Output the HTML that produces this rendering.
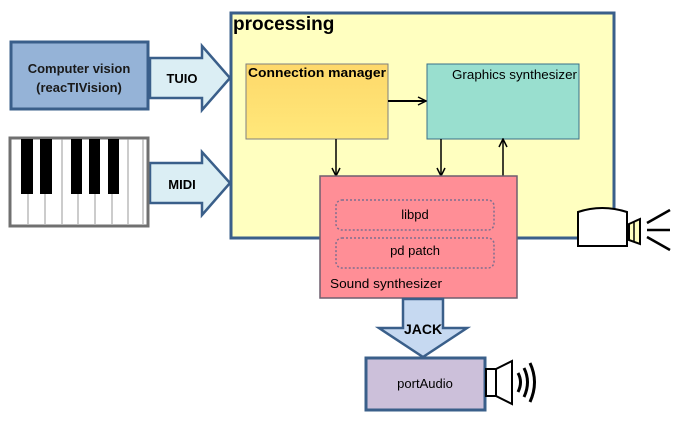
<!DOCTYPE html>
<html><head><meta charset="utf-8"><style>
body{margin:0;background:#fff}
svg text{font-family:"Liberation Sans",sans-serif}
</style></head><body>
<svg width="682" height="424" viewBox="0 0 682 424" xmlns="http://www.w3.org/2000/svg">
<defs>
<marker id="ah" markerWidth="10" markerHeight="10" refX="9" refY="5" orient="auto" markerUnits="userSpaceOnUse">
<path d="M1,1 L9,5 L1,9" fill="none" stroke="#000" stroke-width="1.5"/></marker>
<linearGradient id="cm" x1="0" y1="0" x2="0" y2="1"><stop offset="0" stop-color="#fed86a"/><stop offset="1" stop-color="#ffe87a"/></linearGradient>
</defs>
<rect x="231" y="13" width="383" height="225" fill="#ffffc0" stroke="#3a5f8a" stroke-width="3"/>
<text x="233" y="30" font-size="19" font-weight="bold" fill="#000">processing</text>
<rect x="11" y="42" width="137" height="67" fill="#95b3d7" stroke="#3a5f8a" stroke-width="3"/>
<text x="79" y="73" font-size="13" font-weight="bold" text-anchor="middle" fill="#1a1a1a">Computer vision</text>
<text x="79" y="92" font-size="13" font-weight="bold" text-anchor="middle" fill="#1a1a1a">(reacTIVision)</text>
<path d="M150,58 L202,58 L202,46 L230,78 L202,110 L202,98 L150,98 Z" fill="#dbeef4" stroke="#3a5f8a" stroke-width="2.5"/>
<text x="182" y="83" font-size="13" font-weight="bold" text-anchor="middle">TUIO</text>
<path d="M150,163 L202,163 L202,152 L230,183 L202,215 L202,203 L150,203 Z" fill="#dbeef4" stroke="#3a5f8a" stroke-width="2.5"/>
<text x="182" y="189" font-size="13" font-weight="bold" text-anchor="middle">MIDI</text>
<rect x="10" y="138" width="138" height="88" fill="#fff" stroke="#707070" stroke-width="3"/>
<g stroke="#999" stroke-width="1">
<line x1="28" y1="139" x2="28" y2="224"/><line x1="45" y1="139" x2="45" y2="224"/><line x1="62" y1="139" x2="62" y2="224"/><line x1="78" y1="139" x2="78" y2="224"/><line x1="95" y1="139" x2="95" y2="224"/><line x1="112" y1="139" x2="112" y2="224"/><line x1="128" y1="139" x2="128" y2="224"/><line x1="143" y1="139" x2="143" y2="224"/>
</g>
<g fill="#000">
<rect x="21" y="139" width="12" height="55"/><rect x="40" y="139" width="12" height="55"/><rect x="71" y="139" width="11" height="55"/><rect x="89" y="139" width="11" height="55"/><rect x="108" y="139" width="11" height="55"/>
</g>
<rect x="246" y="64" width="142" height="75" fill="url(#cm)" stroke="#7f7f7f" stroke-width="1"/>
<text x="248" y="77" font-size="13" font-weight="bold" textLength="138" lengthAdjust="spacingAndGlyphs">Connection manager</text>
<rect x="427" y="64" width="152" height="75" fill="#99dfcf" stroke="#3a6f8a" stroke-width="1"/>
<text x="452" y="79" font-size="13" textLength="125" lengthAdjust="spacingAndGlyphs">Graphics synthesizer</text>
<line x1="388" y1="101" x2="426" y2="101" stroke="#000" stroke-width="2" marker-end="url(#ah)"/>
<line x1="336" y1="139" x2="336" y2="176" stroke="#000" stroke-width="1.5" marker-end="url(#ah)"/>
<line x1="441" y1="139" x2="441" y2="176" stroke="#000" stroke-width="1.5" marker-end="url(#ah)"/>
<line x1="503" y1="176" x2="503" y2="139" stroke="#000" stroke-width="1.5" marker-end="url(#ah)"/>
<rect x="320" y="176" width="197" height="122" fill="#ff8e96" stroke="#6f5f6f" stroke-width="1.5"/>
<rect x="336" y="200" width="158" height="30" rx="6" fill="#ff8e96" stroke="#7f6f8f" stroke-width="1.5" stroke-dasharray="2,2"/>
<text x="415" y="219" font-size="13" text-anchor="middle">libpd</text>
<rect x="336" y="238" width="158" height="30" rx="6" fill="#ff8e96" stroke="#7f6f8f" stroke-width="1.5" stroke-dasharray="2,2"/>
<text x="415" y="255" font-size="13" text-anchor="middle">pd patch</text>
<text x="330" y="288" font-size="13" textLength="112" lengthAdjust="spacingAndGlyphs">Sound synthesizer</text>
<path d="M403,299 L443,299 L443,328 L467,328 L423,357 L379,328 L403,328 Z" fill="#c6d9f1" stroke="#3a5f8a" stroke-width="2.5"/>
<text x="423" y="334" font-size="14" font-weight="bold" text-anchor="middle">JACK</text>
<rect x="366" y="358" width="119" height="52" fill="#ccc0da" stroke="#3a5f8a" stroke-width="3"/>
<text x="425" y="388" font-size="13" text-anchor="middle">portAudio</text>
<rect x="486" y="369" width="10" height="27" fill="#fff" stroke="#000" stroke-width="2"/>
<path d="M496,369 L512,361 L512,404 L496,396 Z" fill="#fff" stroke="#000" stroke-width="2"/>
<g fill="none" stroke="#000" stroke-width="3">
<path d="M518,373 Q523,382 518,392"/><path d="M524,368 Q531,382 524,397"/><path d="M530,363 Q539,382 530,402"/>
</g>
<path d="M578,246 L578,212 Q602,204 627,212 L627,246 Z" fill="#fff" stroke="#000" stroke-width="2"/>
<path d="M629,224 L640,219 L640,244 L629,240 Z" fill="#ffffc0" stroke="#000" stroke-width="2"/>
<line x1="634" y1="222" x2="634" y2="242" stroke="#000" stroke-width="1.5"/>
<g stroke="#000" stroke-width="2.5">
<line x1="647" y1="223" x2="670" y2="210"/><line x1="647" y1="230" x2="670" y2="230"/><line x1="647" y1="237" x2="670" y2="250"/>
</g>
</svg>
</body></html>
